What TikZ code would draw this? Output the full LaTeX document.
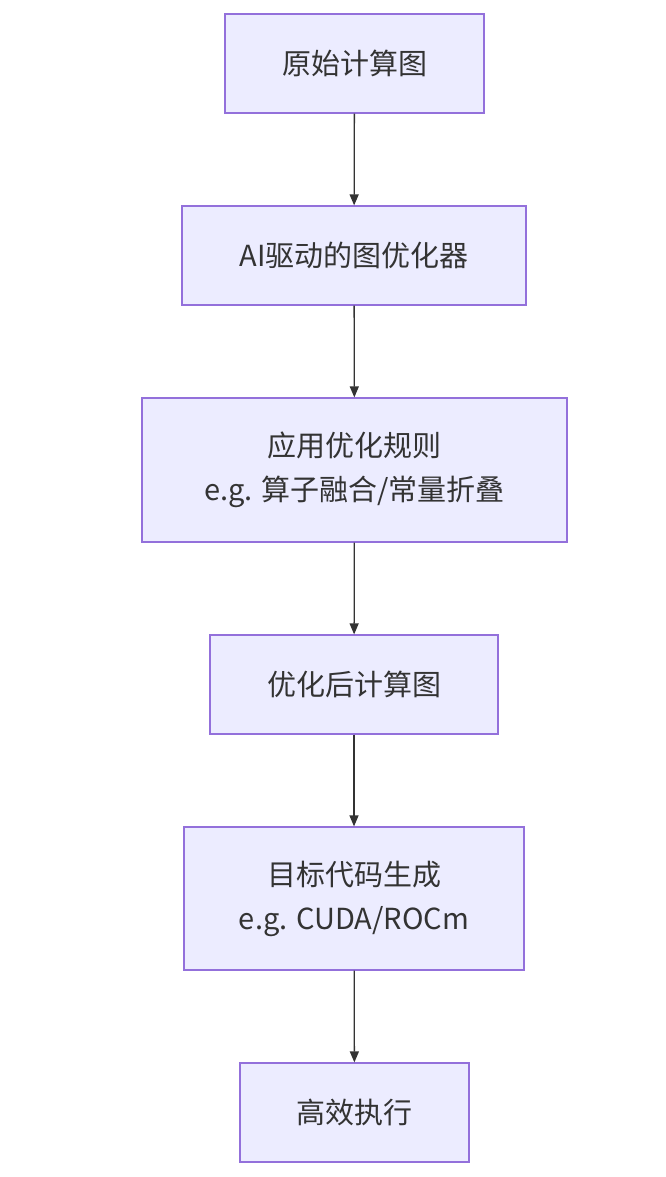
\documentclass[tikz,border=0pt]{standalone}
\usepackage{fontspec}
\setmainfont{Noto Sans CJK SC}
\usetikzlibrary{arrows.meta}
\definecolor{boxfill}{HTML}{ECECFF}
\definecolor{boxline}{HTML}{9370DB}
\definecolor{ink}{HTML}{333333}
\tikzset{
  stage/.style={draw=boxline, fill=boxfill, line width=1.2pt, text=ink,
    font=\fontsize{29}{44}\selectfont, align=center, inner sep=0pt},
  flow/.style={draw=ink, line width=1.3pt, -{Triangle[length=11pt,width=9pt]}}
}
\begin{document}
\begin{tikzpicture}[x=1pt,y=1pt]
  \useasboundingbox (0,0) rectangle (665,1177);
  \node (src) [stage, minimum width=259pt, minimum height=99pt] at (354.5,1113.5) {原始计算图};
  \node (opt) [stage, minimum width=344pt, minimum height=99pt] at (354,921.5) {AI驱动的图优化器};
  \node (rule) [stage, minimum width=425pt, minimum height=144pt] at (354.5,707) {应用优化规则\\e.g. 算子融合/常量折叠};
  \node (dst) [stage, minimum width=288pt, minimum height=99pt] at (354,492.5) {优化后计算图};
  \node (gen) [stage, minimum width=340pt, minimum height=143pt] at (354,278.5) {目标代码生成\\e.g. CUDA/ROCm};
  \node (run) [stage, minimum width=229pt, minimum height=99pt] at (354.5,64.5) {高效执行};
  \draw[flow] (src) -- (opt);
  \draw[flow] (opt) -- (rule);
  \draw[flow] (rule) -- (dst);
  \draw[flow] (dst) -- (gen);
  \draw[flow] (gen) -- (run);
\end{tikzpicture}
\end{document}
